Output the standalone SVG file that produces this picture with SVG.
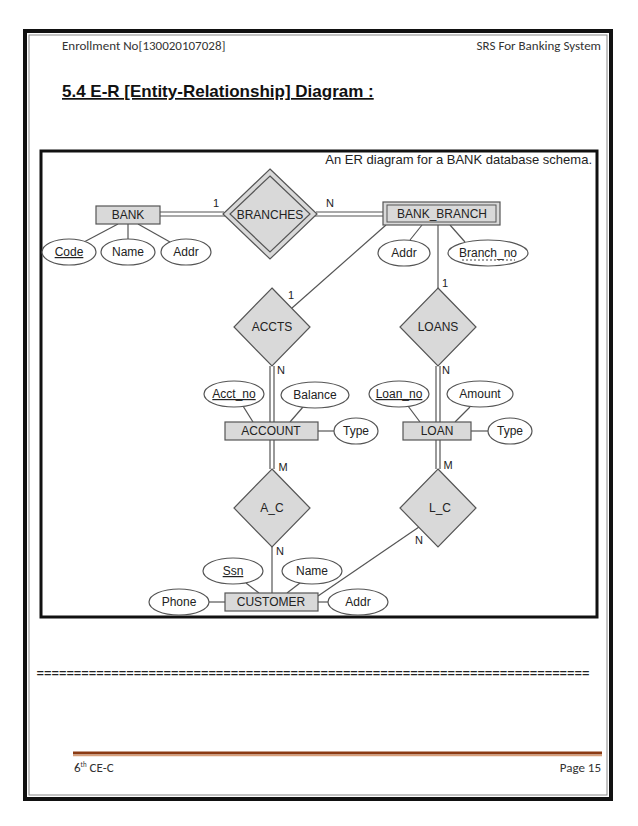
<svg xmlns="http://www.w3.org/2000/svg" width="638" height="826" viewBox="0 0 638 826">
<style>
.hd{font-family:Carlito,"Liberation Sans",sans-serif;font-size:13px;fill:#333}
.t{font-family:"Liberation Sans",Arial,sans-serif;font-size:12px;fill:#222;text-anchor:middle}
.c{font-family:"Liberation Sans",Arial,sans-serif;font-size:11px;fill:#222;text-anchor:middle}
.ent{fill:#d9d9d9;stroke:#555;stroke-width:1.2}
.rel{fill:#d9d9d9;stroke:#555;stroke-width:1.2}
.att{fill:#fff;stroke:#555;stroke-width:1.2}
.ln{stroke:#555;stroke-width:1.2;fill:none}
</style>
<rect width="638" height="826" fill="#fff"/>
<rect x="25" y="31" width="586" height="768" fill="none" stroke="#111" stroke-width="4"/>
<rect x="29" y="35" width="578" height="760" fill="none" stroke="#888" stroke-width="1"/>
<text class="hd" x="62" y="50">Enrollment No[130020107028]</text>
<text class="hd" x="601" y="50" text-anchor="end">SRS For Banking System</text>
<text x="62" y="97" font-family="Liberation Sans,Arial,sans-serif" font-size="17" font-weight="bold" fill="#111" text-decoration="underline">5.4 E-R [Entity-Relationship] Diagram :</text>
<rect x="41" y="151" width="556" height="466" fill="#fff" stroke="#111" stroke-width="3"/>
<text x="592" y="164" font-family="Liberation Sans,Arial,sans-serif" font-size="13" fill="#222" text-anchor="end">An ER diagram for a BANK database schema.</text>
<g id="connectors">
<line class="ln" x1="160" y1="212" x2="224" y2="212"/><line class="ln" x1="160" y1="216" x2="225" y2="216"/>
<line class="ln" x1="316" y1="212" x2="383" y2="212"/><line class="ln" x1="315" y1="216" x2="383" y2="216"/>
<line class="ln" x1="118" y1="224" x2="84" y2="242"/><line class="ln" x1="128" y1="224" x2="128" y2="239"/><line class="ln" x1="138" y1="224" x2="170" y2="242"/>
<line class="ln" x1="422" y1="225" x2="410" y2="240"/><line class="ln" x1="450" y1="225" x2="465" y2="242"/>
<line class="ln" x1="386" y1="225" x2="292" y2="308"/>
<line class="ln" x1="438" y1="225" x2="438" y2="289"/>
<line class="ln" x1="270" y1="366" x2="270" y2="422"/><line class="ln" x1="274" y1="366" x2="274" y2="422"/>
<line class="ln" x1="436" y1="366" x2="436" y2="422"/><line class="ln" x1="440" y1="366" x2="440" y2="422"/>
<line class="ln" x1="243" y1="406" x2="253" y2="422"/><line class="ln" x1="303" y1="407" x2="290" y2="422"/><line class="ln" x1="318" y1="431" x2="334" y2="431"/>
<line class="ln" x1="408" y1="406" x2="420" y2="422"/><line class="ln" x1="470" y1="407" x2="455" y2="422"/><line class="ln" x1="471" y1="431" x2="488" y2="431"/>
<line class="ln" x1="270" y1="440" x2="270" y2="469"/><line class="ln" x1="274" y1="440" x2="274" y2="469"/>
<line class="ln" x1="436" y1="440" x2="436" y2="469"/><line class="ln" x1="440" y1="440" x2="440" y2="469"/>
<line class="ln" x1="272" y1="547" x2="272" y2="593"/>
<line class="ln" x1="419" y1="527" x2="318" y2="596"/>
<line class="ln" x1="246" y1="583" x2="259" y2="593"/><line class="ln" x1="300" y1="583" x2="287" y2="593"/>
<line class="ln" x1="209" y1="602" x2="225" y2="602"/><line class="ln" x1="318" y1="602" x2="328" y2="602"/>
</g>
<g class="c">
<text x="216" y="207">1</text><text x="330" y="207">N</text>
<text x="291" y="299">1</text><text x="445" y="287">1</text>
<text x="281" y="374">N</text><text x="446" y="374">N</text>
<text x="283" y="471">M</text><text x="448" y="469">M</text>
<text x="280" y="555">N</text><text x="419" y="544">N</text>
</g>
<g id="BANK"><rect class="ent" x="96" y="206" width="64" height="18"/><text class="t" x="128" y="219">BANK</text></g>
<g id="BRANCHES"><polygon class="rel" points="270,169 317,214 270,259 223,214"/><polygon fill="none" stroke="#555" stroke-width="1.2" points="270,176 310,214 270,252 230,214"/><text class="t" x="270" y="219">BRANCHES</text></g>
<g id="BANK_BRANCH"><rect class="ent" x="383" y="202" width="117" height="23"/><rect fill="none" stroke="#555" x="387" y="205" width="109" height="17"/><text class="t" x="442" y="218">BANK_BRANCH</text></g>
<g id="Code"><ellipse class="att" cx="69" cy="252" rx="27" ry="13"/><text class="t" x="69" y="256" text-decoration="underline">Code</text></g>
<g id="Name1"><ellipse class="att" cx="128" cy="252" rx="27" ry="13"/><text class="t" x="128" y="256">Name</text></g>
<g id="Addr1"><ellipse class="att" cx="186" cy="252" rx="25" ry="13"/><text class="t" x="186" y="256">Addr</text></g>
<g id="Addr2"><ellipse class="att" cx="404" cy="253" rx="26" ry="13"/><text class="t" x="404" y="257">Addr</text></g>
<g id="Branch_no"><ellipse class="att" cx="488" cy="253" rx="40" ry="13"/><text class="t" x="488" y="257">Branch_no</text><line x1="462" y1="260" x2="515" y2="260" stroke="#444" stroke-dasharray="2,2"/></g>
<g id="ACCTS"><polygon class="rel" points="272,288 310,327 272,366 234,327"/><text class="t" x="272" y="331">ACCTS</text></g>
<g id="LOANS"><polygon class="rel" points="438,288 476,327 438,366 400,327"/><text class="t" x="438" y="331">LOANS</text></g>
<g id="Acct_no"><ellipse class="att" cx="234" cy="394" rx="30" ry="13"/><text class="t" x="234" y="398" text-decoration="underline">Acct_no</text></g>
<g id="Balance"><ellipse class="att" cx="315" cy="395" rx="34" ry="13"/><text class="t" x="315" y="399">Balance</text></g>
<g id="ACCOUNT"><rect class="ent" x="225" y="422" width="93" height="18"/><text class="t" x="271" y="435">ACCOUNT</text></g>
<g id="Type1"><ellipse class="att" cx="356" cy="431" rx="22" ry="13"/><text class="t" x="356" y="435">Type</text></g>
<g id="Loan_no"><ellipse class="att" cx="399" cy="394" rx="30" ry="13"/><text class="t" x="399" y="398" text-decoration="underline">Loan_no</text></g>
<g id="Amount"><ellipse class="att" cx="480" cy="394" rx="33" ry="13"/><text class="t" x="480" y="398">Amount</text></g>
<g id="LOAN"><rect class="ent" x="403" y="422" width="68" height="18"/><text class="t" x="437" y="435">LOAN</text></g>
<g id="Type2"><ellipse class="att" cx="510" cy="431" rx="22" ry="13"/><text class="t" x="510" y="435">Type</text></g>
<g id="A_C"><polygon class="rel" points="272,469 310,508 272,547 234,508"/><text class="t" x="272" y="512">A_C</text></g>
<g id="L_C"><polygon class="rel" points="438,469 476,508 438,547 400,508"/><text class="t" x="440" y="512">L_C</text></g>
<g id="Ssn"><ellipse class="att" cx="233" cy="571" rx="30" ry="13"/><text class="t" x="233" y="575" text-decoration="underline">Ssn</text></g>
<g id="Name2"><ellipse class="att" cx="312" cy="571" rx="30" ry="13"/><text class="t" x="312" y="575">Name</text></g>
<g id="CUSTOMER"><rect class="ent" x="225" y="593" width="93" height="18"/><text class="t" x="271" y="606">CUSTOMER</text></g>
<g id="Phone"><ellipse class="att" cx="179" cy="602" rx="30" ry="13"/><text class="t" x="179" y="606">Phone</text></g>
<g id="Addr3"><ellipse class="att" cx="358" cy="602" rx="30" ry="13"/><text class="t" x="358" y="606">Addr</text></g>
<text x="313" y="677" font-family="Liberation Mono,monospace" font-size="11" font-weight="bold" fill="#222" text-anchor="middle" textLength="553" lengthAdjust="spacingAndGlyphs">==========================================================================</text>
<line x1="73" y1="753" x2="602" y2="753" stroke="#8b3a12" stroke-width="3"/>
<line x1="73" y1="755.5" x2="602" y2="755.5" stroke="#d9a07a" stroke-width="1.5"/>
<text class="hd" x="74" y="772">6<tspan font-size="7" dy="-5">th</tspan><tspan dy="5"> CE-C</tspan></text>
<text class="hd" x="601" y="772" text-anchor="end">Page 15</text>
</svg>
